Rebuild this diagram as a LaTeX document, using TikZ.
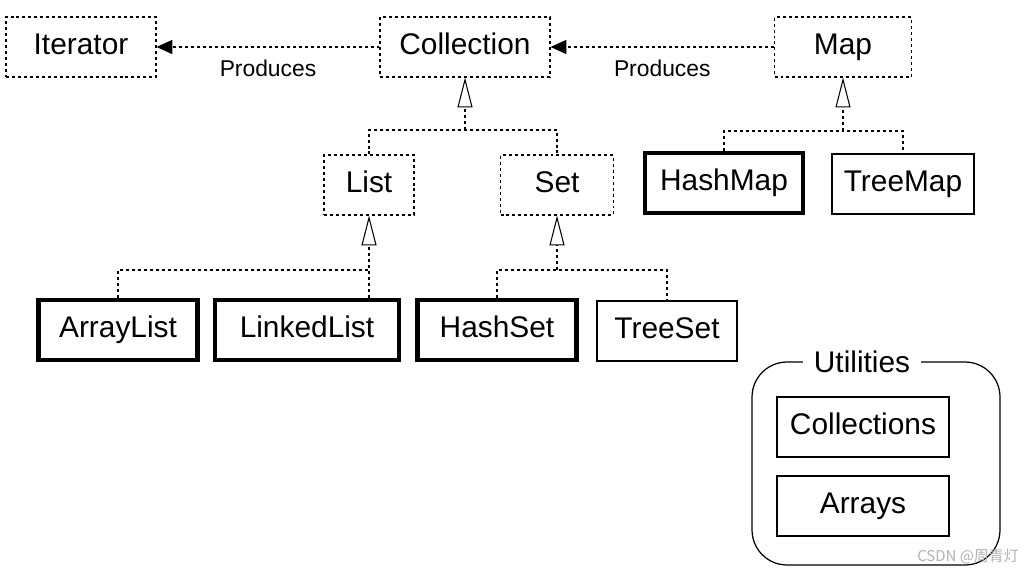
\documentclass[tikz,border=0pt]{standalone}
\usepackage{fontspec}
\setmainfont{Liberation Sans}
\newfontfamily\cjkfont{Noto Sans CJK SC}
\usetikzlibrary{arrows.meta,calc}
\tikzset{
>=Stealth,
base box/.style={rectangle,minimum height=1.2cm,text height=12.5pt,text depth=3.5pt,font=\fontsize{17}{20}\selectfont},
iface/.style={base box,draw,dash pattern=on 1.7pt off 1.7pt,line width=0.6pt},
plain class/.style={base box,draw,line width=0.7pt},
main class/.style={base box,draw,line width=2.4pt},
dotline/.style={dash pattern=on 1.7pt off 1.7pt,line width=0.6pt},
produces/.style={dotline,-{Triangle[length=9pt,width=8pt]}},
extends/.style={dotline,-{Triangle[open,length=17pt,width=8.5pt]}}}

\begin{document}
\begin{tikzpicture}[x=0.02cm,y=-0.02cm]
\useasboundingbox (0,0) rectangle (1033,574);

\node[iface,minimum width=3cm] (iterator) at (81,47) {Iterator};
\node[iface,minimum width=3.4cm] (collection) at (465,47) {Collection};
\node[iface,minimum width=2.74cm] (map) at (843,47) {Map};
\node[iface,minimum width=1.8cm] (list) at (369,185) {List};
\node[iface,minimum width=2.26cm] (set) at (557,185) {Set};

\node[main class,minimum width=3.16cm] (hashmap) at (724,183) {HashMap};
\node[plain class,minimum width=2.84cm] (treemap) at (903,184) {TreeMap};
\node[main class,minimum width=3.18cm] (arraylist) at (118,330) {ArrayList};
\node[main class,minimum width=3.68cm] (linkedlist) at (307,330) {LinkedList};
\node[main class,minimum width=3.18cm] (hashset) at (497,330) {HashSet};
\node[plain class,minimum width=2.8cm] (treeset) at (667,331) {TreeSet};

% produces
\draw[produces] (collection) -- (iterator)
  node[midway,below=4pt,font=\fontsize{13}{15}\selectfont] {Produces};
\draw[produces] (map) -- (collection)
  node[midway,below=4pt,font=\fontsize{13}{15}\selectfont] {Produces};

% inheritance
\coordinate (colljoin) at (465,130);
\draw[dotline] (list.north) |- (colljoin) -| (set.north);
\draw[extends] (colljoin) -- (collection.south);

\coordinate (mapjoin) at (843,131);
\draw[dotline] (hashmap.north) |- (mapjoin) -| (treemap.north);
\draw[extends] (mapjoin) -- (map.south);

\coordinate (listjoin) at (369,270);
\draw[dotline] (arraylist.north) |- (listjoin);
\draw[extends] (linkedlist.north -| listjoin) -- (list.south);

\coordinate (setjoin) at (557,270);
\draw[dotline] (hashset.north) |- (setjoin) -| (treeset.north);
\draw[extends] (setjoin) -- (set.south);

% utilities
\node[draw,line width=0.7pt,rounded corners=0.7cm,minimum width=4.96cm,minimum height=4.06cm] (utilbox) at (876,463.5) {};
\node[fill=white,inner xsep=6pt,inner ysep=1pt,font=\fontsize{17}{20}\selectfont] (utillabel) at (862,362) {Utilities};
\node[plain class,minimum width=3.44cm] (collections) at (863,427) {Collections};
\node[plain class,minimum width=3.44cm] (arrays) at (863,506) {Arrays};

\node[text=gray!60,font=\cjkfont\fontsize{8.5}{10}\selectfont] (mark) at (968,557) {CSDN @周青灯};
\end{tikzpicture}
\end{document}
